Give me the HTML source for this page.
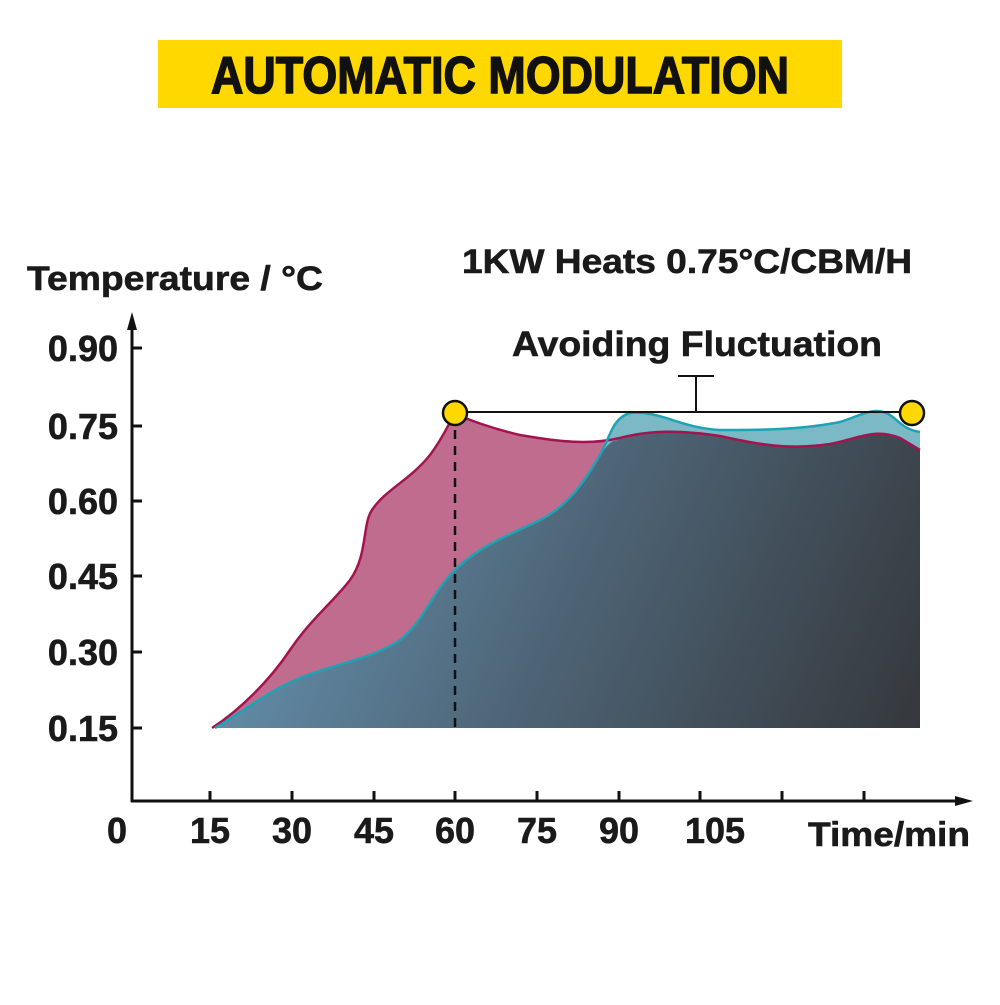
<!DOCTYPE html>
<html><head><meta charset="utf-8"><style>html,body{margin:0;padding:0;background:#fff}</style></head>
<body>
<svg width="1000" height="1000" viewBox="0 0 1000 1000" xmlns="http://www.w3.org/2000/svg" font-family="Liberation Sans, sans-serif" font-weight="bold">
<defs>
<linearGradient id="g" x1="215" y1="420" x2="920" y2="728" gradientUnits="userSpaceOnUse">
<stop offset="0" stop-color="#6a9cbc"/><stop offset="0.5" stop-color="#4e6577"/><stop offset="1" stop-color="#35383c"/>
</linearGradient>
</defs>
<rect x="158" y="40" width="684" height="68" fill="#ffd800"/>
<text x="500" y="93" text-anchor="middle" font-size="52" textLength="578" lengthAdjust="spacingAndGlyphs" fill="#111" stroke="#111" stroke-width="1.5">AUTOMATIC MODULATION</text>
<text x="462" y="273" font-size="34" textLength="450" lengthAdjust="spacingAndGlyphs" fill="#1a1a1a" stroke="#1a1a1a" stroke-width="0.6">1KW Heats 0.75°C/CBM/H</text>
<text x="27" y="290" font-size="34" textLength="296" lengthAdjust="spacingAndGlyphs" fill="#1a1a1a" stroke="#1a1a1a" stroke-width="0.6">Temperature / °C</text>
<text x="512" y="356" font-size="35" textLength="370" lengthAdjust="spacingAndGlyphs" fill="#1a1a1a" stroke="#1a1a1a" stroke-width="0.6">Avoiding Fluctuation</text>
<path d="M212,728 C240,710 270,680 290,650 C310,620 335,600 350,580 C368,555 362,525 372,510 C385,490 410,480 430,455 C445,435 450,420 455,414 C470,420 490,428 520,435 C560,442 590,445 620,438 C650,430 680,430 720,436 C760,445 790,450 830,444 C860,438 875,428 900,438 L920,450 L920,728 Z" fill="#c06c8e"/>
<path d="M215,728 C245,710 270,690 300,678 C330,665 370,660 400,640 C425,620 430,595 455,570 C480,545 510,535 540,520 C570,505 585,480 600,455 C610,438 612,418 630,413 C660,410 680,428 720,430 C760,430 800,430 840,422 C860,416 875,405 890,415 C900,422 905,430 920,432 L920,728 Z" fill="#7ab9c5"/>
<path d="M215,728 C245,710 270,690 300,678 C330,665 370,660 400,640 C425,620 430,595 455,570 C480,545 510,535 540,520 C570,505 585,480 600,455 C606,447 610,442 614,441 C650,430 680,430 720,436 C760,445 790,450 830,444 C860,438 875,428 900,438 L920,450 L920,728 Z" fill="url(#g)"/>
<path d="M212,728 C240,710 270,680 290,650 C310,620 335,600 350,580 C368,555 362,525 372,510 C385,490 410,480 430,455 C445,435 450,420 455,414 C470,420 490,428 520,435 C560,442 590,445 620,438 C650,430 680,430 720,436 C760,445 790,450 830,444 C860,438 875,428 900,438 L920,450" fill="none" stroke="#a3144f" stroke-width="2.5"/>
<path d="M215,728 C245,710 270,690 300,678 C330,665 370,660 400,640 C425,620 430,595 455,570 C480,545 510,535 540,520 C570,505 585,480 600,455 C610,438 612,418 630,413 C660,410 680,428 720,430 C760,430 800,430 840,422 C860,416 875,405 890,415 C900,422 905,430 920,432" fill="none" stroke="#1ea3b5" stroke-width="2.5"/>
<line x1="455" y1="414" x2="455" y2="728" stroke="#111" stroke-width="2.5" stroke-dasharray="9,7"/>
<line x1="455" y1="412" x2="912" y2="412" stroke="#111" stroke-width="2"/>
<line x1="696" y1="376" x2="696" y2="412" stroke="#111" stroke-width="2"/>
<line x1="678" y1="376" x2="714" y2="376" stroke="#111" stroke-width="2"/>
<circle cx="455" cy="413" r="12" fill="#ffd800" stroke="#111" stroke-width="2.5"/>
<circle cx="912" cy="413" r="12" fill="#ffd800" stroke="#111" stroke-width="2.5"/>
<line x1="132" y1="318" x2="132" y2="802" stroke="#111" stroke-width="3"/>
<polygon points="132,312 127,330 137,330" fill="#111"/>
<line x1="131" y1="801" x2="960" y2="801" stroke="#111" stroke-width="3"/>
<polygon points="973,801 955,796 955,806" fill="#111"/>
<g stroke="#111" stroke-width="3">
<line x1="132" y1="348" x2="142" y2="348"/><line x1="132" y1="426" x2="142" y2="426"/><line x1="132" y1="501" x2="142" y2="501"/><line x1="132" y1="576" x2="142" y2="576"/><line x1="132" y1="652" x2="142" y2="652"/><line x1="132" y1="728" x2="142" y2="728"/>
<line x1="210" y1="791" x2="210" y2="801"/><line x1="292" y1="791" x2="292" y2="801"/><line x1="374" y1="791" x2="374" y2="801"/><line x1="455" y1="791" x2="455" y2="801"/><line x1="537" y1="791" x2="537" y2="801"/><line x1="619" y1="791" x2="619" y2="801"/><line x1="700" y1="791" x2="700" y2="801"/><line x1="782" y1="791" x2="782" y2="801"/><line x1="864" y1="791" x2="864" y2="801"/>
</g>
<g font-size="36" fill="#1a1a1a" stroke="#1a1a1a" stroke-width="0.6" text-anchor="end">
<text x="118" y="361">0.90</text><text x="118" y="439">0.75</text><text x="118" y="514">0.60</text><text x="118" y="589">0.45</text><text x="118" y="665">0.30</text><text x="118" y="741">0.15</text>
</g>
<g font-size="36" fill="#1a1a1a" stroke="#1a1a1a" stroke-width="0.6" text-anchor="middle">
<text x="117" y="843">0</text><text x="210" y="843">15</text><text x="292" y="843">30</text><text x="374" y="843">45</text><text x="455" y="843">60</text><text x="537" y="843">75</text><text x="619" y="843">90</text><text x="715" y="843">105</text>
</g>
<text x="808" y="846" font-size="34" textLength="162" lengthAdjust="spacingAndGlyphs" fill="#1a1a1a" stroke="#1a1a1a" stroke-width="0.6">Time/min</text>
</svg>
</body></html>
